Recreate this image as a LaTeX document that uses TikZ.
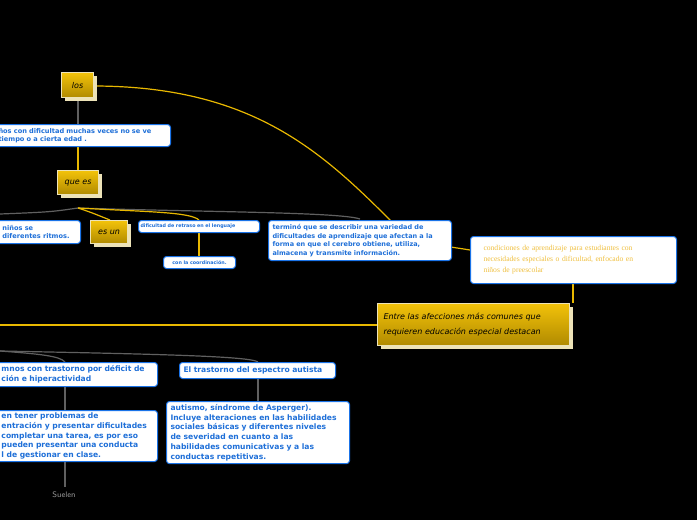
\documentclass[tikz,border=0pt]{standalone}
\usepackage{fontspec}
\setmainfont{Liberation Serif}
\newfontfamily\bx{DejaVu Sans}
\definecolor{gtop}{HTML}{F2C20A}
\definecolor{gbot}{HTML}{B08A00}
\definecolor{gshad}{HTML}{EDE3B8}
\definecolor{btxt}{HTML}{1E6FD8}
\definecolor{bline}{HTML}{1A73E8}
\definecolor{yline}{HTML}{E8B800}
\definecolor{ctxt}{HTML}{F0C040}
\begin{document}
\begin{tikzpicture}[x=1pt,y=-1pt,
 gold/.style={draw=gshad,line width=1.2pt,top color=gtop,bottom color=gbot,font=\bx\itshape\fontsize{8}{11}\selectfont,text=black,align=left,anchor=north west,inner xsep=6pt,inner ysep=3pt},
 shad/.style={fill=gshad,anchor=north west},
 blue/.style={draw=bline,line width=1pt,fill=white,rounded corners=3pt,font=\bx\bfseries\fontsize{6.6}{8}\selectfont,text=btxt,align=left,anchor=north west,inner xsep=4pt,inner ysep=3pt},
 yl/.style={draw=yline,line width=1.2pt},
 gl/.style={draw=gray!75!black,line width=1.2pt}]
\fill[black] (0,0) rectangle (697,520);
\useasboundingbox (0,0) rectangle (697,520);
% lines
\draw[yl] (93,86) .. controls (250,86) and (320,150) .. (390,220) .. controls (420,245) and (440,245) .. (470,250);
\draw[gl] (78,97) -- (78,124);
\draw[yl] (78,146) -- (78,170);
\draw[gl] (78,208) .. controls (50,212) .. (0,214);
\draw[gl] (78,208) .. controls (200,212) and (340,212) .. (360,219);
\draw[yl] (78,208) .. controls (90,212) .. (110,220);
\draw[yl] (78,208) .. controls (150,212) and (190,212) .. (199,220);
\draw[yl] (199,232) -- (199,256);
\draw[yl] (573,283) -- (573,303);
\draw[yl] (0,325) -- (377,325);
\draw[gl] (0,351) .. controls (40,354) and (60,356) .. (65,362);
\draw[gl] (0,351) .. controls (150,354) and (250,356) .. (258,362);
\draw[gl] (65,386) -- (65,410);
\draw[gl] (65,461) -- (65,487);
\draw[gl] (258,378) -- (258,401);
% gold nodes
\node[shad,minimum width=32pt,minimum height=25pt] at (65,76) {};
\node[gold,minimum width=32pt,minimum height=25pt] (los) at (61,72) {los};
\node[shad,minimum width=41pt,minimum height=24pt] at (61,174) {};
\node[gold,minimum width=41pt,minimum height=24pt] (quees) at (57,170) {que es};
\node[shad,minimum width=37pt,minimum height=23pt] at (94,224) {};
\node[gold,minimum width=37pt,minimum height=23pt] (esun) at (90,220) {es un};
\node[shad,minimum width=192pt,minimum height=42pt] at (381,307) {};
\node[gold,text width=180pt,minimum height=42pt,font=\bx\itshape\fontsize{8}{15}\selectfont] (entre) at (377,303) {Entre las afecciones más comunes que\\requieren educación especial destacan};
% blue nodes
\node[blue,text width=168pt,minimum height=22pt] (b1) at (-6,124) {ños con dificultad muchas veces no se ve\\tiempo o a cierta edad .};
\node[blue,text width=82pt,minimum height=23pt] (b2) at (-10,220) {\hspace{8pt}niños se\\\hspace{8pt}diferentes ritmos.};
\node[blue,text width=117pt,minimum height=12pt,font=\bx\bfseries\fontsize{4.8}{5}\selectfont,inner xsep=2pt,inner ysep=2.5pt] (dif) at (138,220) {dificultad de retraso en el lenguaje};
\node[blue,text width=68pt,minimum height=12pt,font=\bx\bfseries\fontsize{4.8}{5}\selectfont,inner xsep=2pt,inner ysep=2.5pt,align=center] (coord) at (163,256) {con la coordinación.};
\node[blue,text width=175pt,minimum height=40pt,font=\bx\bfseries\fontsize{6.5}{8.7}\selectfont] (term) at (268,220) { terminó que se describir una variedad de\\dificultades de aprendizaje que afectan a la\\forma en que el cerebro obtiene, utiliza,\\almacena y transmite información.};
\node[blue,text width=180pt,minimum height=47pt,font=\fontsize{7.6}{11}\selectfont,text=ctxt,inner xsep=13pt,inner ysep=4pt] (cond) at (470,236) {condiciones de aprendizaje para estudiantes con\\necesidades especiales o dificultad, enfocado en\\niños de preescolar};
\node[blue,text width=159pt,minimum height=24pt,font=\bx\bfseries\fontsize{7.6}{10}\selectfont,inner ysep=2pt] (tdah) at (-10,362) {\hspace{7pt}mnos con trastorno por déficit de\\\hspace{7pt}ción e hiperactividad};
\node[blue,text width=148pt,minimum height=16pt,font=\bx\bfseries\fontsize{7.6}{9}\selectfont] (tea) at (179,362) {El trastorno del espectro autista};
\node[blue,text width=159pt,minimum height=51pt,font=\bx\bfseries\fontsize{7.6}{9.7}\selectfont,inner ysep=2pt] (sue) at (-10,410) {\hspace{7pt}en tener problemas de\\\hspace{7pt}entración y presentar dificultades\\\hspace{7pt}completar una tarea, es por eso\\\hspace{7pt}pueden presentar una conducta\\\hspace{7pt}l de gestionar en clase.};
\node[blue,text width=175pt,minimum height=62pt,font=\bx\bfseries\fontsize{7.6}{9.7}\selectfont,inner ysep=3pt] (aut) at (166,401) {autismo, síndrome de Asperger).\\Incluye alteraciones en las habilidades\\sociales básicas y diferentes niveles\\de severidad en cuanto a las\\habilidades comunicativas y a las\\conductas repetitivas.};
\node[text=gray!80,font=\sffamily\fontsize{8}{9}\selectfont] (suelen) at (64,495) {Suelen};
\end{tikzpicture}
\end{document}
